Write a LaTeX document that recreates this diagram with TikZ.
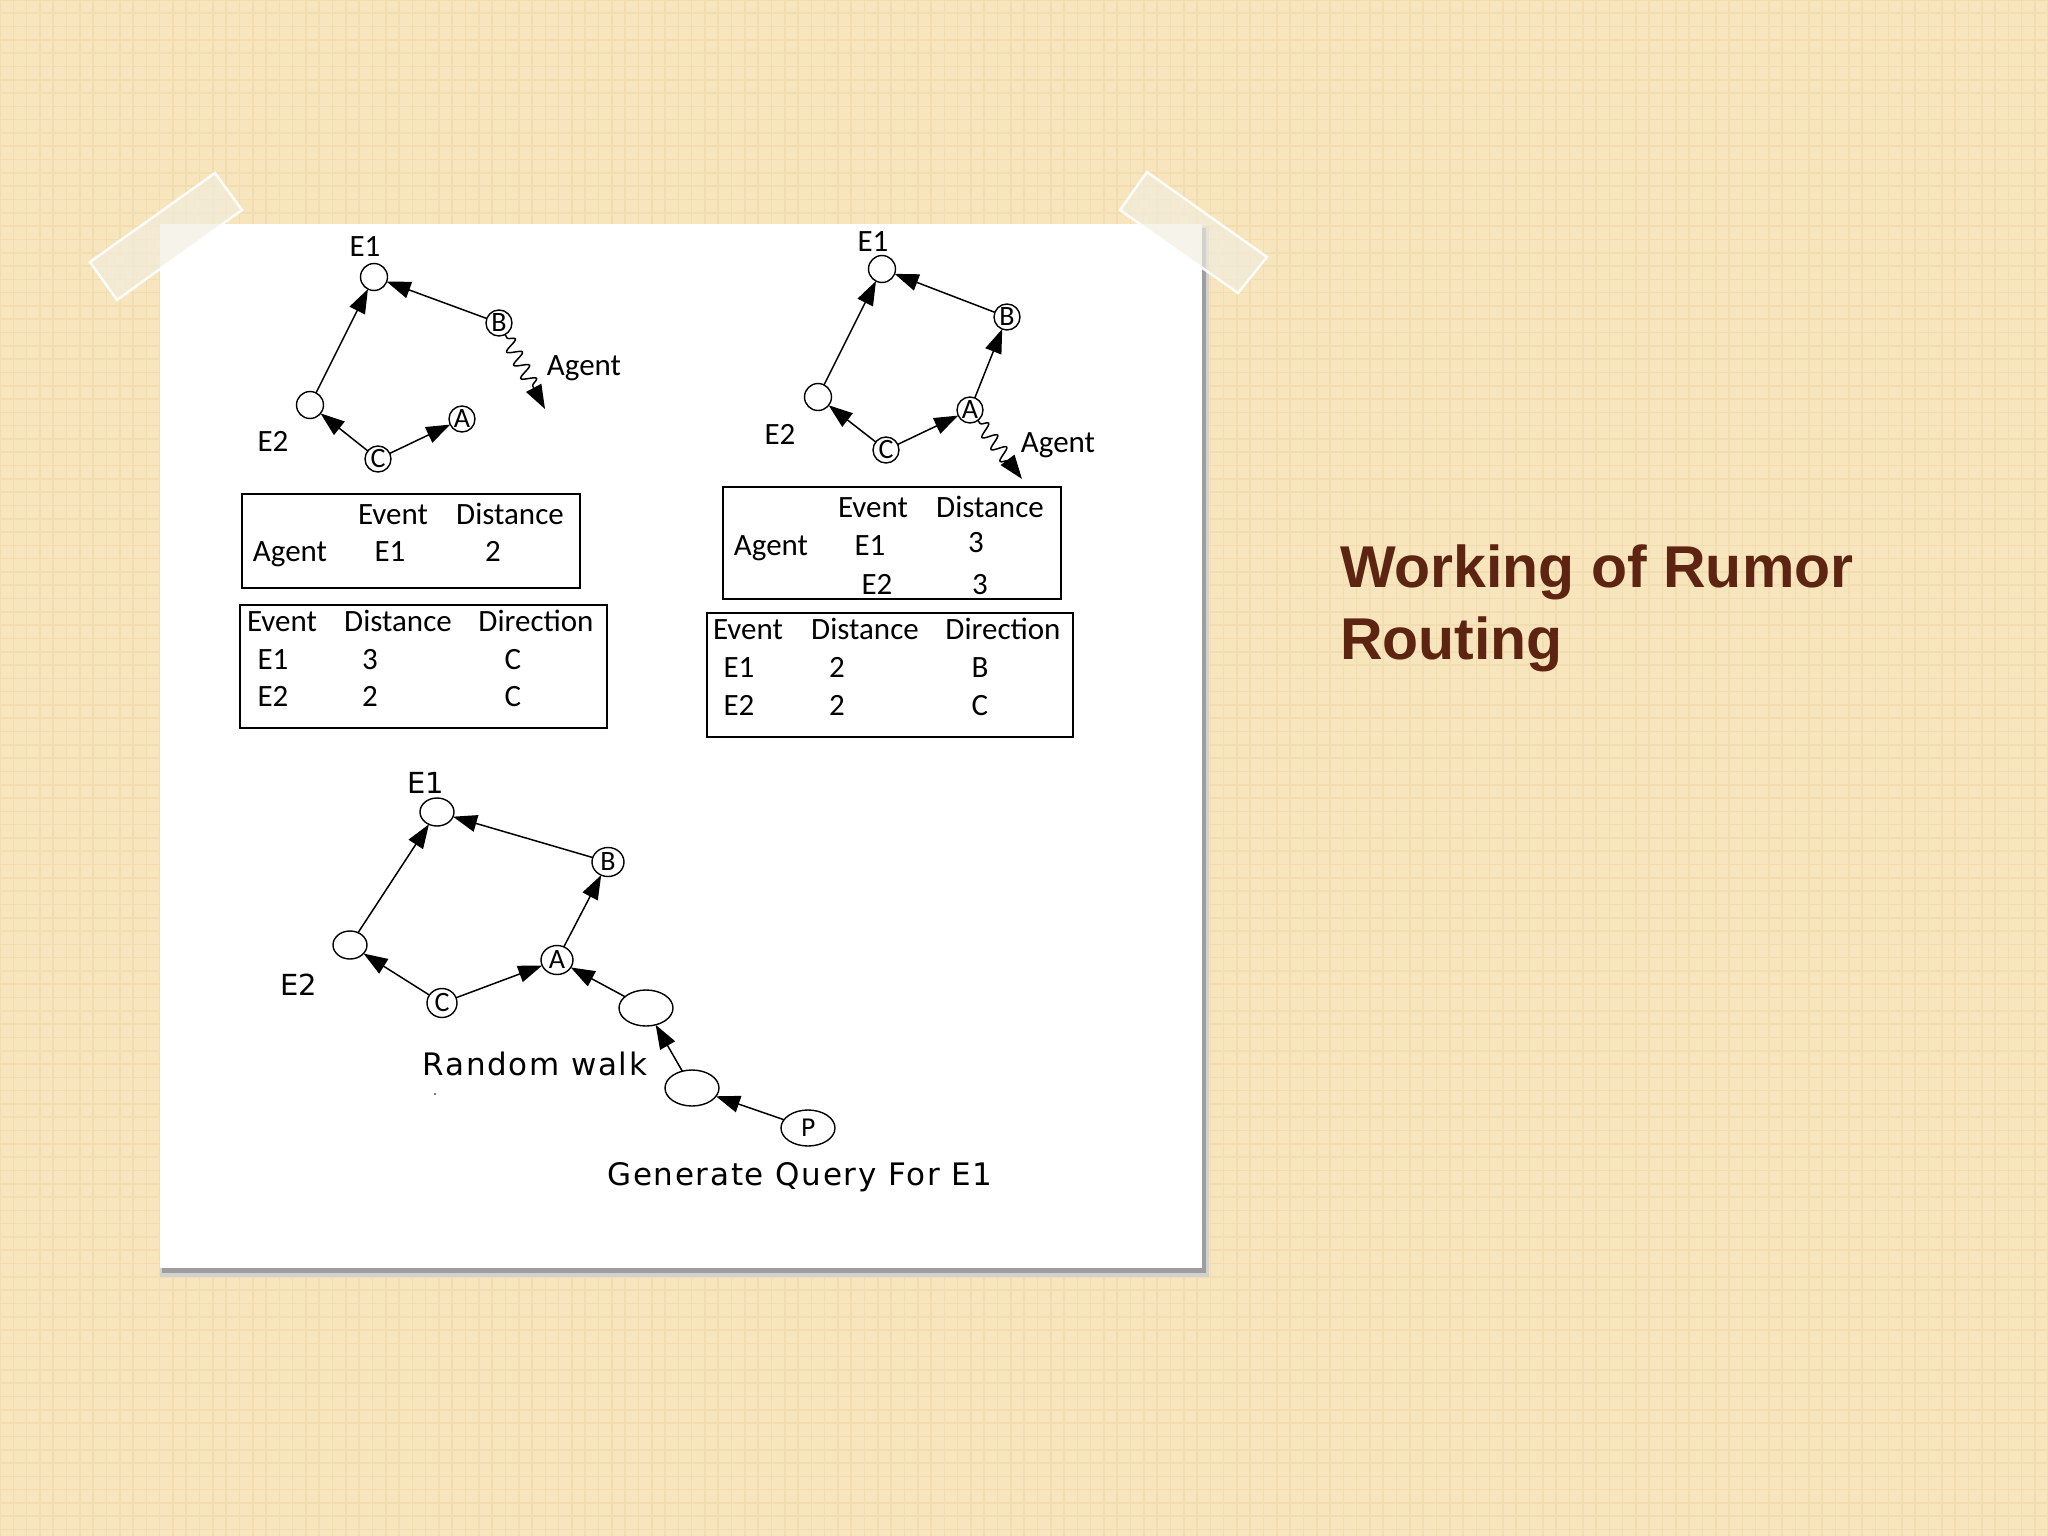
\documentclass[tikz,border=0pt]{standalone}
\usepackage{fontspec}
\setmainfont{Carlito}
\newfontfamily\wideff{DejaVu Sans}
\newfontfamily\spacedff[LetterSpace=5.5]{DejaVu Sans}
\newfontfamily\titleff{Liberation Sans}
\usetikzlibrary{arrows.meta,shapes.geometric,decorations.pathmorphing}
\definecolor{bgtan}{RGB}{246,229,189}
\definecolor{bgline}{RGB}{241,221,176}
\definecolor{titlebrown}{RGB}{94,36,18}
\definecolor{tapecol}{RGB}{242,238,224}
\begin{document}
\begin{tikzpicture}[x=1pt,y=-1pt,
  every node/.style={inner sep=0pt, outer sep=0pt},
  lbl/.style={anchor=base, font=\fontsize{31}{31}\selectfont, text=black},
  wlbl/.style={anchor=base, font=\wideff\fontsize{29}{29}\selectfont, text=black},
  glbl/.style={anchor=base, font=\spacedff\fontsize{31}{31}\selectfont, text=black},
  sn/.style={draw, circle, line width=1.4pt, minimum size=26pt, font=\fontsize{28}{28}\selectfont},
  en/.style={draw, circle, line width=1.4pt, minimum size=27pt},
  ov/.style 2 args={draw, ellipse, line width=1.4pt, minimum width=#1, minimum height=#2},
  arr/.style={-{Triangle[length=24pt,width=17pt]}, line width=1.5pt},
  tbox/.style={draw, line width=2.6pt, rectangle},
  wave/.style={decorate, decoration={snake, amplitude=7pt, segment length=15pt, pre length=4pt, post length=22pt}, line width=1.5pt, -{Triangle[length=24pt,width=17pt]}},
]
\useasboundingbox (0,0) rectangle (2048,1536);
% background
\fill[bgtan] (0,0) rectangle (2048,1536);
\foreach \i in {0,...,154} {\draw[bgline, line width=1.6pt] (\i*13.3,0) -- (\i*13.3,1536);}
\foreach \j in {0,...,116} {\draw[bgline, line width=1.6pt] (0,\j*13.3) -- (2048,\j*13.3);}
% paper with shadow
\fill[black!18] (160,226) rectangle (1209,1277);
\fill[black!38] (162,228) rectangle (1206,1273);
\fill[white] (160,224) rectangle (1202,1268);
% tapes
\filldraw[fill=tapecol, fill opacity=0.65, draw=white, draw opacity=0.9, line width=2.5pt] (90,262) -- (215,173) -- (242,210) -- (117,300) -- cycle;
\filldraw[fill=tapecol, fill opacity=0.65, draw=white, draw opacity=0.9, line width=2.5pt] (1120,210) -- (1147,172) -- (1267,257) -- (1238,293) -- cycle;
% title
\node[anchor=base west, font=\titleff\bfseries\fontsize{59}{59}\selectfont, text=titlebrown] (title1) at (1340,587) {Working of Rumor};
\node[anchor=base west, font=\titleff\bfseries\fontsize{59}{59}\selectfont, text=titlebrown] (title2) at (1340,659) {Routing};

% ---------- diagram 1 ----------
\node[lbl] (d1e1l) at (365,256) {E1};
\node[en] (d1E1) at (374,277) {};
\node[sn] (d1B) at (499,323) {B};
\node[en] (d1E2) at (310,405) {};
\node[sn] (d1C) at (378,459) {C};
\node[sn] (d1A) at (462,419) {A};
\node[lbl] (d1e2l) at (273,451) {E2};
\node[lbl] (d1ag) at (584,375) {Agent};
\coordinate (d1w) at (545,409);
\draw[arr] (d1E2) -- (d1E1);
\draw[arr] (d1B) -- (d1E1);
\draw[arr] (d1C) -- (d1E2);
\draw[arr] (d1C) -- (d1A);
\draw[wave] (d1B) -- (d1w);
% tables 1
\node[tbox, minimum width=338pt, minimum height=94pt] (d1t1) at (411,541) {};
\node[lbl] (d1t1h1) at (393,524) {Event};
\node[lbl] (d1t1h2) at (510,524) {Distance};
\node[lbl] (d1t1a) at (290,561) {Agent};
\node[lbl] (d1t1e) at (390,561) {E1};
\node[lbl] (d1t1d) at (493,561) {2};
\node[tbox, minimum width=367pt, minimum height=123pt] (d1t2) at (423.5,666.5) {};
\node[lbl] (d1t2h1) at (282,631) {Event};
\node[lbl] (d1t2h2) at (398,631) {Distance};
\node[lbl] (d1t2h3) at (536,631) {Direction};
\node[lbl] (d1t2r1a) at (273,669) {E1};
\node[lbl] (d1t2r1b) at (370,669) {3};
\node[lbl] (d1t2r1c) at (513,669) {C};
\node[lbl] (d1t2r2a) at (273,706) {E2};
\node[lbl] (d1t2r2b) at (370,706) {2};
\node[lbl] (d1t2r2c) at (513,706) {C};

% ---------- diagram 2 ----------
\node[lbl] (d2e1l) at (873,251) {E1};
\node[en] (d2E1) at (882,269) {};
\node[sn] (d2B) at (1007,317) {B};
\node[en] (d2E2) at (818,397) {};
\node[sn] (d2C) at (886,450) {C};
\node[sn] (d2A) at (970,410) {A};
\node[lbl] (d2e2l) at (780,444) {E2};
\node[lbl] (d2ag) at (1058,452) {Agent};
\coordinate (d2w) at (1022,479);
\draw[arr] (d2E2) -- (d2E1);
\draw[arr] (d2B) -- (d2E1);
\draw[arr] (d2C) -- (d2E2);
\draw[arr] (d2C) -- (d2A);
\draw[arr] (d2A) -- (d2B);
\draw[wave] (d2A) -- (d2w);
% tables 2
\node[tbox, minimum width=338pt, minimum height=112pt] (d2t1) at (892,543) {};
\node[lbl] (d2t1h1) at (873,517) {Event};
\node[lbl] (d2t1h2) at (990,517) {Distance};
\node[lbl] (d2t1a) at (771,555) {Agent};
\node[lbl] (d2t1e1) at (870,555) {E1};
\node[lbl] (d2t1d1) at (976,552) {3};
\node[lbl] (d2t1e2) at (877,594) {E2};
\node[lbl] (d2t1d2) at (980,594) {3};
\node[tbox, minimum width=366pt, minimum height=124pt] (d2t2) at (890,675) {};
\node[lbl] (d2t2h1) at (748,639) {Event};
\node[lbl] (d2t2h2) at (865,639) {Distance};
\node[lbl] (d2t2h3) at (1003,639) {Direction};
\node[lbl] (d2t2r1a) at (739,677) {E1};
\node[lbl] (d2t2r1b) at (837,677) {2};
\node[lbl] (d2t2r1c) at (980,677) {B};
\node[lbl] (d2t2r2a) at (739,715) {E2};
\node[lbl] (d2t2r2b) at (837,715) {2};
\node[lbl] (d2t2r2c) at (980,715) {C};

% ---------- diagram 3 ----------
\node[wlbl] (d3e1l) at (426,793) {E1};
\node[ov={34pt}{28pt}] (d3E1) at (437,812) {};
\node[ov={32pt}{29pt}, font=\fontsize{28}{28}\selectfont] (d3B) at (608,862) {B};
\node[ov={34pt}{28pt}] (d3E2) at (350,945) {};
\node[wlbl] (d3e2l) at (299,995) {E2};
\node[ov={30pt}{29pt}, font=\fontsize{28}{28}\selectfont] (d3C) at (442,1003) {C};
\node[ov={32pt}{29pt}, font=\fontsize{28}{28}\selectfont] (d3A) at (557,960) {A};
\node[ov={54pt}{36pt}] (d3W1) at (646,1008) {};
\node[ov={54pt}{36pt}] (d3W2) at (692,1088) {};
\node[ov={54pt}{36pt}, font=\wideff\fontsize{24}{24}\selectfont] (d3P) at (808,1128) {P};
\node[glbl] (d3rw) at (535,1075) {Random walk};
\node[glbl] (d3gq) at (800,1185) {Generate Query For E1};
\fill[black!70] (435,1094) circle (1.2);
\draw[arr] (d3E2) -- (d3E1);
\draw[arr] (d3B) -- (d3E1);
\draw[arr] (d3C) -- (d3E2);
\draw[arr] (d3C) -- (d3A);
\draw[arr] (d3A) -- (d3B);
\draw[arr] (d3W1) -- (d3A);
\draw[arr] (d3W2) -- (d3W1);
\draw[arr] (d3P) -- (d3W2);
\end{tikzpicture}
\end{document}
